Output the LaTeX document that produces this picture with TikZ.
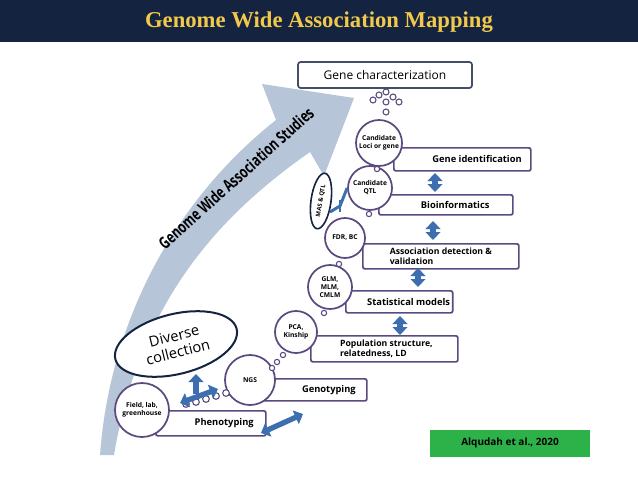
\documentclass[tikz,border=0pt]{standalone}
\usepackage{fontspec}
\setmainfont{Liberation Serif}
\newfontfamily\sansf{Open Sans}
\usetikzlibrary{arrows.meta,shapes.geometric}
\definecolor{navy}{HTML}{14233F}
\definecolor{gold}{HTML}{F2C94C}
\definecolor{pur}{HTML}{5B4A80}
\definecolor{bbl}{HTML}{3D6FB0}
\definecolor{arr}{HTML}{B7C5D8}
\definecolor{grn}{HTML}{2DB24A}
\begin{document}
\begin{tikzpicture}[x=0.75pt,y=-0.75pt,
  >={Triangle[width=11pt,length=6pt]},
  circ/.style={circle,draw=pur,line width=1.3pt,fill=white,inner sep=0pt,font=\sansf\bfseries\fontsize{5}{6}\selectfont,align=center},
  box/.style={draw=pur,line width=1.3pt,fill=white,rounded corners=1.5pt,anchor=north west,font=\sansf\bfseries\fontsize{7}{8}\selectfont,align=left,inner sep=2pt},
  dot/.style={circle,draw=pur,line width=0.8pt,fill=white,inner sep=0pt,minimum size=5pt},
  dbl/.style={<->,draw=bbl,line width=4pt}]
\useasboundingbox (0,0) rectangle (638,478);
\fill[white] (0,0) rectangle (638,478);
\fill[navy] (0,0) rectangle (638,42);
\node[text=gold,font=\bfseries\fontsize{17}{20}\selectfont] (title) at (319,22) {Genome Wide Association Mapping};
% big arrow
\fill[arr] (100,455) .. controls (110,320) and (175,200) .. (276,120) -- (262,84) -- (354,98) -- (324,176) -- (310,152) .. controls (220,215) and (140,300) .. (114,455) -- cycle;
\node[rotate=42,font=\sansf\bfseries\fontsize{12.5}{14}\selectfont] (gwas) at (236,178) {\scalebox{0.72}[1]{Genome Wide Association Studies}};
% gene characterization
\node[draw=navy!80,line width=1.3pt,rounded corners=2pt,minimum width=174pt*0.75,minimum height=26pt*0.75,font=\sansf\fontsize{9}{10}\selectfont,fill=white] (gc) at (385,75) {Gene characterization};
\foreach \p/\q in {373/100,379/95,386/92,393/97,399/102,386/102,386/112} \node[dot,minimum size=4.5pt] at (\p,\q) {};
% boxes
\node[box,minimum width=137*0.75pt,minimum height=23*0.75pt] (b1) at (393,147) {\hspace{22pt}Gene identification};
\node[box,minimum width=134*0.75pt,minimum height=20*0.75pt] (b2) at (378,194) {\hspace{14pt}Bioinformatics};
\node[box,minimum width=156*0.75pt,minimum height=25*0.75pt] (b3) at (362,243) {\fontsize{6.5}{7.5}\selectfont Association detection \&\\ \fontsize{6.5}{7.5}\selectfont validation};
\node[box,minimum width=103*0.75pt,minimum height=22*0.75pt] (b4) at (345,290) {\hspace{14pt}Statistical models};
\node[box,minimum width=147*0.75pt,minimum height=26*0.75pt] (b5) at (310,335) {\hspace{3pt}\fontsize{6.5}{7.5}\selectfont Population structure,\\ \hspace{3pt}\fontsize{6.5}{7.5}\selectfont relatedness, LD};
\node[box,minimum width=108*0.75pt,minimum height=22*0.75pt] (b6) at (258,378) {\hspace{24pt}Genotyping};
\node[box,minimum width=110*0.75pt,minimum height=25*0.75pt] (b7) at (155,410) {\hspace{20pt}Phenotyping};
% circles
\node[circ,minimum size=46*0.75pt] (c1) at (379,143) {Candidate\\Loci or gene};
\node[circ,minimum size=44*0.75pt] (c2) at (370,188) {Candidate\\QTL};
\node[circ,minimum size=40*0.75pt] (c3) at (345,238) {FDR, BC};
\node[circ,minimum size=44*0.75pt] (c4) at (330,287) {GLM,\\MLM,\\CMLM};
\node[circ,minimum size=42*0.75pt] (c5) at (296,332) {PCA,\\Kinship};
\node[circ,minimum size=50*0.75pt] (c6) at (250,380) {NGS};
\node[circ,minimum size=54*0.75pt] (c7) at (142,410) {Field, lab,\\greenhouse};
\node[dot,minimum size=4pt] at (377,169) {};
\node[dot,minimum size=4pt] at (369,214) {};
\node[dot,minimum size=4pt] at (339,264) {};
\node[dot,minimum size=4pt] at (324,313) {};
\node[dot,minimum size=4pt] at (283,355) {};
\node[dot,minimum size=4pt] at (277,362) {};
\node[dot,minimum size=4pt] at (272,368) {};
\foreach \p/\q in {186/404,196/402,206/399,216/396,226/393} \node[dot,minimum size=5pt] at (\p,\q) {};
% MAS & QTL
\node[ellipse,draw=navy,line width=1.2pt,fill=white,minimum width=20*0.75pt,minimum height=56*0.75pt,rotate=-8,inner sep=0pt] (mas) at (321,201) {};
\node[rotate=80,font=\sansf\bfseries\fontsize{4.5}{5}\selectfont] (mast) at (321,201) {MAS \& QTL};
\coordinate (mj) at (340,206);
\draw[bbl,line width=2.2pt] (330,212) -- (mj) -- (c2.west);
\draw[bbl,line width=2.2pt] (mj) -- ++(0,-6) (mj) -- ++(0,6);
% diverse collection
\node[ellipse,draw=navy,line width=1.5pt,fill=white,minimum width=125*0.75pt,minimum height=60*0.75pt,rotate=14] (dc) at (176,344) {};
\node[rotate=14,align=center,font=\sansf\fontsize{11}{12.5}\selectfont] (dct) at (176,344) {Diverse\\collection};
% double arrows
\draw[dbl] (435,173) -- (435,192);
\draw[dbl] (433,221) -- (433,240);
\draw[dbl] (418,268) -- (418,287);
\draw[dbl] (400,316) -- (400,335);
\draw[dbl] (261,433) -- (303,414);
\draw[bbl,line width=4pt,->] (196,394) -- (196,374);
\draw[dbl] (180,403) -- (218,389);
% citation
\node[fill=grn,minimum width=160*0.75pt,minimum height=27*0.75pt,font=\sansf\bfseries\fontsize{7.5}{9}\selectfont] (cite) at (510,443) {Alqudah et al., 2020};
\end{tikzpicture}
\end{document}
